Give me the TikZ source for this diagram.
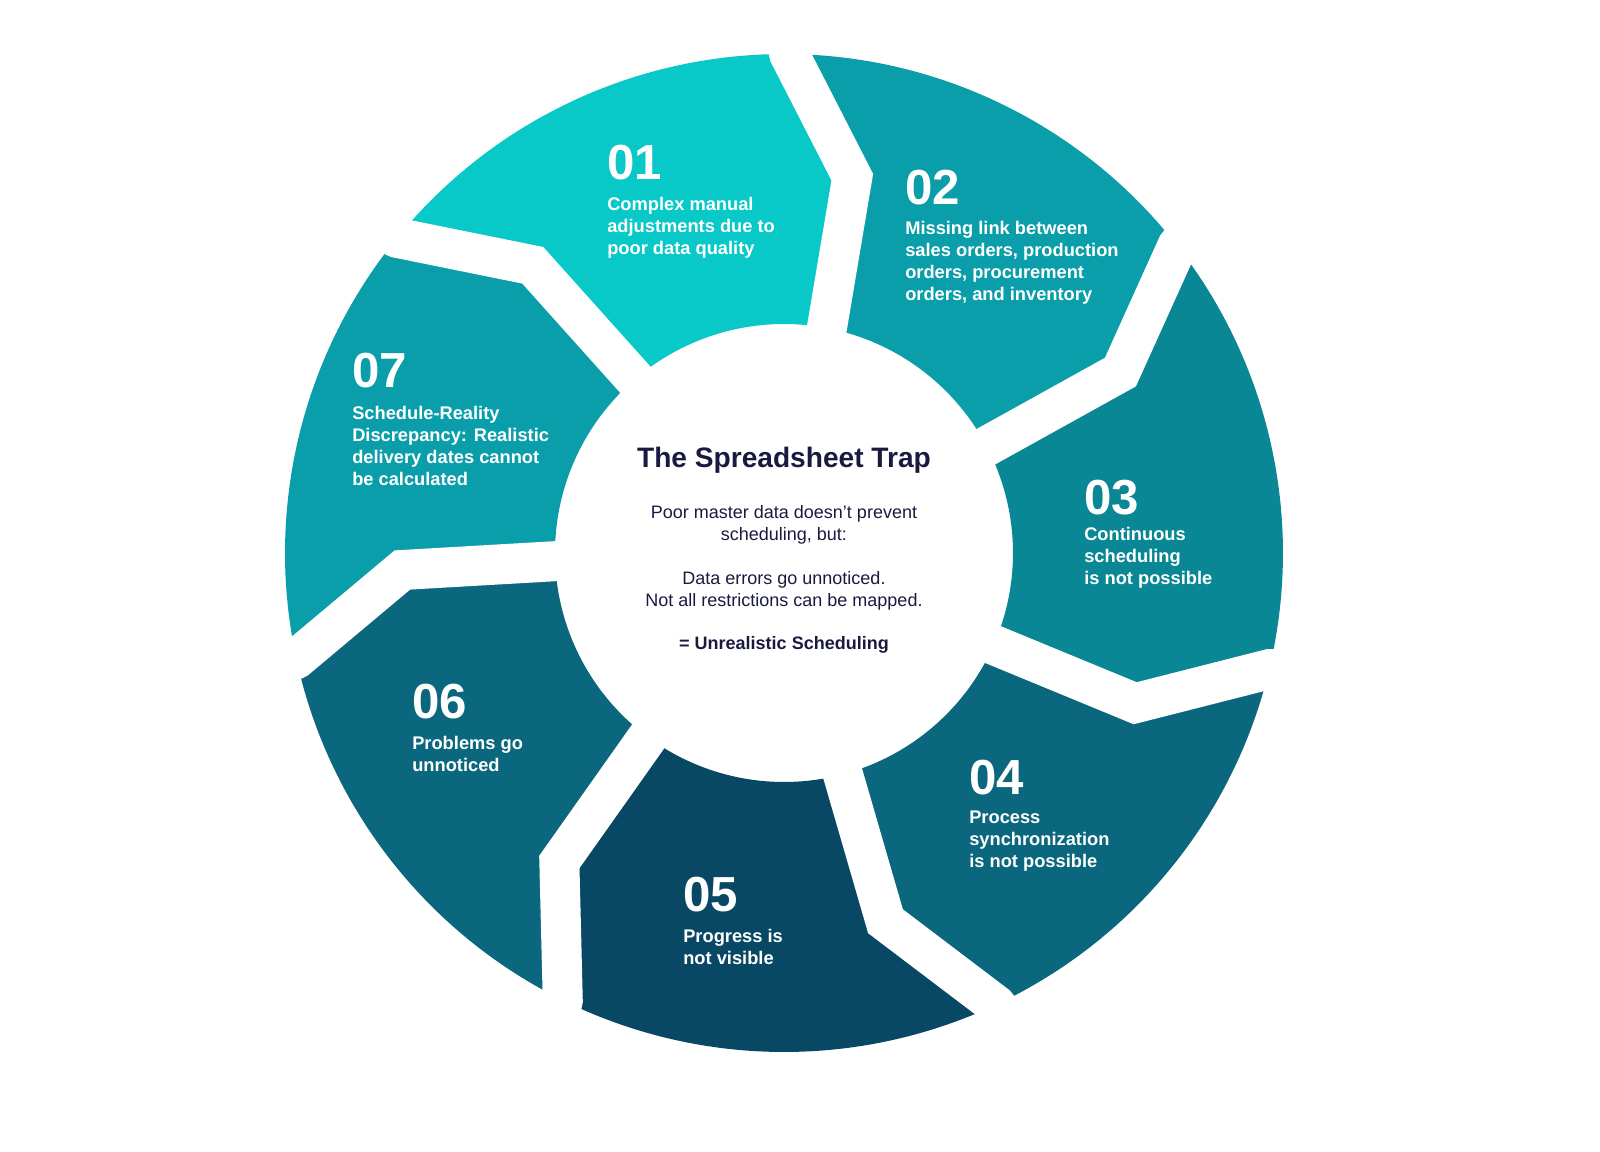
\documentclass[tikz,border=0pt]{standalone}
\usepackage{fontspec}
\setmainfont{Liberation Sans}
\definecolor{segA}{HTML}{08C8C8}
\definecolor{segB}{HTML}{0A9EAA}
\definecolor{segC}{HTML}{0A8794}
\definecolor{segD}{HTML}{0A677E}
\definecolor{segE}{HTML}{094864}
\definecolor{navy}{HTML}{1A1A40}
\begin{document}
\begin{tikzpicture}[x=0.025cm,y=0.025cm]
\tikzset{every node/.style={inner sep=0pt, text=white, font=\bfseries},
  num/.style={anchor=base west, font=\bfseries\fontsize{35}{40}\selectfont},
  txt/.style={anchor=north west, align=left, font=\bfseries\fontsize{13}{15.6}\selectfont}}
\useasboundingbox (-784,-599) rectangle (816,553);
% ring segments
\foreach \i/\c in {0/segA,1/segB,2/segC,3/segD,4/segE,5/segD,6/segB} {
  \pgfmathsetmacro{\T}{140.83-51.43*\i}
  \pgfmathsetmacro{\L}{\T-51.43}
  \fill [\c] (\T:499) arc [start angle=\T, end angle=\L, radius=499]
    -- (\L-9.7:382) -- (\L-10.2:229) arc [start angle=\L-10.2, end angle=\T-10.2, radius=229]
    -- (\T-9.7:382) -- cycle;
}
% gaps
\foreach \i in {0,...,6} {
  \pgfmathsetmacro{\T}{140.83-51.43*\i}
  \draw [white, line width=1cm, line join=miter] (\T+1.5:560) -- (\T:499) -- (\T-9.7:382) -- (\T-10.2:229) -- (\T-10.5:180);
}
% labels
\node [num] (n1) at (607-784,553-180) {01};
\node [txt] (t1) at (607-784,553-197) {Complex manual\\adjustments due to\\poor data quality};
\node [num] (n2) at (905-784,553-205) {02};
\node [txt] (t2) at (905-784,553-221) {Missing link between\\sales orders, production\\orders, procurement\\orders, and inventory};
\node [num] (n3) at (1084-784,553-514) {03};
\node [txt] (t3) at (1084-784,553-527) {Continuous\\scheduling\\is not possible};
\node [num] (n4) at (969-784,553-794) {04};
\node [txt] (t4) at (969-784,553-811) {Process\\synchronization\\is not possible};
\node [num] (n5) at (683-784,553-911) {05};
\node [txt] (t5) at (683-784,553-929) {Progress is\\not visible};
\node [num] (n6) at (412-784,553-718) {06};
\node [txt] (t6) at (412-784,553-736) {Problems go\\unnoticed};
\node [num] (n7) at (352-784,553-388) {07};
\node [txt] (t7) at (352-784,553-406) {Schedule-Reality\\Discrepancy: Realistic\\delivery dates cannot\\be calculated};
% centre
\node [anchor=base, text=navy, font=\bfseries\fontsize{20}{24}\selectfont] (title) at (0,553-467) {The Spreadsheet Trap};
\node [anchor=north, align=center, text=navy, font=\fontsize{12.8}{15.6}\selectfont] (body) at (0,553-505)
  {Poor master data doesn’t prevent\\scheduling, but:\\[15.6pt]Data errors go unnoticed.\\Not all restrictions can be mapped.\\[15.6pt]\textbf{= Unrealistic Scheduling}};
\end{tikzpicture}
\end{document}
